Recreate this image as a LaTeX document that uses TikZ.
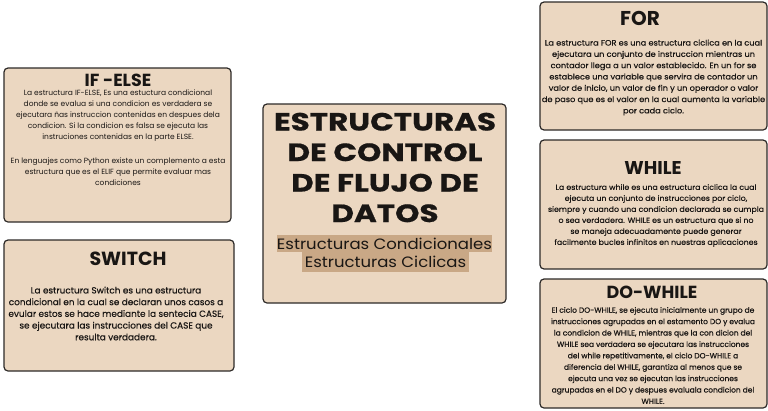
\documentclass[tikz,border=0pt]{standalone}
\usepackage{fontspec}
\setmainfont{Poppins}
\newfontfamily\titlef{Poppins}
\newfontfamily\bigtitlef{Poppins}[FakeStretch=1.24,FakeBold=0.7]
\newfontfamily\bodyb{Poppins}[FakeBold=0.5]
\newfontfamily\bodybw{Poppins}[FakeBold=0.5,FakeStretch=1.06]
\newfontfamily\subf{Poppins}[FakeStretch=1.1]
\definecolor{boxfill}{RGB}{235,215,193}
\definecolor{boxline}{RGB}{45,42,40}
\definecolor{hlfill}{RGB}{201,168,134}
\definecolor{ink}{RGB}{25,22,20}
\begin{document}
\begin{tikzpicture}[x=1pt,y=-1pt,
  card/.style={draw=boxline, fill=boxfill, line width=1.2pt, rounded corners=4pt, inner sep=0pt},
  ttl/.style={inner sep=0pt, text=ink},
  body/.style={align=center, inner sep=0pt, text=ink},
  hl/.style={fill=hlfill, inner sep=0pt, text=ink, font=\subf\fontsize{15}{15}\selectfont}
]
\useasboundingbox (0,0) rectangle (768,410);
% cards
\node (ifbox) [card, minimum width=227pt, minimum height=154pt] at (117.5,145) {};
\node (swbox) [card, minimum width=230pt, minimum height=131pt] at (119,305.5) {};
\node (cbox) [card, minimum width=243pt, minimum height=199pt] at (384.5,203.5) {};
\node (forbox) [card, minimum width=227pt, minimum height=128pt] at (653.5,66) {};
\node (whbox) [card, minimum width=227pt, minimum height=129pt] at (653.5,204.5) {};
\node (dwbox) [card, minimum width=227pt, minimum height=129pt] at (653.5,343.5) {};
% IF-ELSE
\node (ift) [ttl, font=\titlef\bfseries\fontsize{17.5}{17.5}\selectfont] at (118,80) {IF -ELSE};
\node (ifb) [body, font=\fontsize{7.5}{11}\selectfont] at (118,138) {La estructura IF-ELSE, Es una estuctura condicional\\ donde se evalua si  una condicion es verdadera se\\ ejecutara ñas instruccion contenidas en despues dela\\ condicion. Si la condicion es falsa se ejecuta las\\ instruciones contenidas en la parte ELSE.\\[13pt] En lenguajes como Python existe un complemento a esta\\ estructura que es el ELIF que permite evaluar mas\\ condiciones};
% SWITCH
\node (swt) [ttl, font=\titlef\bfseries\fontsize{19}{19}\selectfont] at (128,259) {SWITCH};
\node (swb) [body, font=\bodyb\fontsize{8.9}{11.7}\selectfont] at (116,313.5) {La estructura Switch es una estructura\\ condicional en la cual se declaran unos casos a\\ evular estos se hace mediante la sentecia CASE,\\ se ejecutara las instrucciones del CASE que\\ resulta verdadera.};
% CENTER
\node (ct) [ttl, align=center, font=\bigtitlef\bfseries\fontsize{25}{30.5}\selectfont] at (385,167.5) {ESTRUCTURAS\\ DE CONTROL\\ DE FLUJO DE\\ DATOS};
\node (c1) [hl, minimum width=215pt, minimum height=17pt] at (384.5,243.5) {Estructuras Condicionales};
\node (c2) [hl, minimum width=167pt, minimum height=20pt] at (385.5,262) {Estructuras Ciclicas};
% FOR
\node (fort) [ttl, font=\titlef\bfseries\fontsize{20}{20}\selectfont] at (640,18) {FOR};
\node (forb) [body, font=\bodybw\fontsize{7.75}{11.3}\selectfont] at (653.5,77.5) {La estructura FOR es una estructura ciclica en la cual\\ ejecutara un conjunto de instruccion mientras un\\ contador llega a un valor establecido. En un for se\\ establece una variable que servira de contador un\\ valor de inicio, un valor de fin  y un operador o valor\\ de paso que es el valor en la cual aumenta la variable\\ por cada ciclo.};
% WHILE
\node (wht) [ttl, font=\titlef\bfseries\fontsize{18.5}{18.5}\selectfont] at (653,168) {WHILE};
\node (whb) [body, font=\bodybw\fontsize{7.4}{11}\selectfont] at (656,215.5) {La estructura while es una estructura ciclica la cual\\ ejecuta un conjunto de instrucciones  por ciclo,\\ siempre y cuando una condicion declarada se cumpla\\ o sea verdadera. WHILE es un  estructura que si  no\\ se maneja adecuadamente puede generar\\ facilmente bucles infinitos en nuestras aplicaciones};
% DO-WHILE
\node (dwt) [ttl, font=\titlef\bfseries\fontsize{17.5}{17.5}\selectfont] at (652,292) {DO-WHILE};
\node (dwb) [body, font=\bodyb\fontsize{7.5}{11.4}\selectfont] at (653,355.5) {El ciclo DO-WHILE, se ejecuta inicialmente un grupo de\\ instrucciones agrupadas en el estamento DO y evalua\\ la condicion de WHILE, mientras que la con dicion del\\ WHILE sea verdadera se ejecutara las instrucciones\\ del while repetitivamente, el ciclo DO-WHILE a\\ diferencia del WHILE, garantiza al menos que se\\ ejecuta una vez se ejecutan las instrucciones\\ agrupadas en el DO y despues evaluala condicion del\\ WHILE.};
\end{tikzpicture}
\end{document}
